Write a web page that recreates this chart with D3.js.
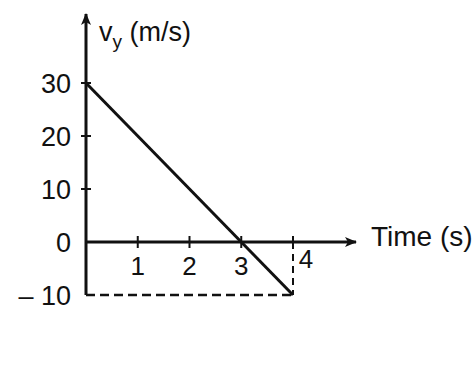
<!DOCTYPE html>
<html>
<head>
<meta charset="utf-8">
<script src="https://cdn.jsdelivr.net/npm/d3@7"></script>
<style>
  body { margin: 0; background: #fff; }
  text { font-family: "Liberation Sans", Arial, sans-serif; fill: #111; }
</style>
</head>
<body>
<svg id="svg" width="474" height="365"></svg>
<script>
// data
var time = [0, 4];
var vy = [30, -10];
var xTicks = [1, 2, 3, 4];
var yTicks = [30, 20, 10, 0, -10];
var yTickLabels = ["30", "20", "10", "0", "\u2013 10"];

var svg = d3.select("#svg");
var ink = "#111";

var x = d3.scaleLinear().domain([0, 4]).range([86, 293]);
var y = d3.scaleLinear().domain([-10, 30]).range([295, 83]);

// arrow head
svg.append("defs").append("marker")
  .attr("id", "arrow")
  .attr("viewBox", "0 0 12 10")
  .attr("refX", 11).attr("refY", 5)
  .attr("markerWidth", 13).attr("markerHeight", 10)
  .attr("markerUnits", "userSpaceOnUse")
  .attr("orient", "auto")
  .append("path")
  .attr("d", "M0,0 L12,5 L0,10 L3,5 Z")
  .attr("fill", ink);

// y axis (from -10 up to arrow)
svg.append("line")
  .attr("x1", x(0)).attr("x2", x(0))
  .attr("y1", y(-10)).attr("y2", 14)
  .attr("stroke", ink).attr("stroke-width", 3)
  .attr("marker-end", "url(#arrow)");

// x axis
svg.append("line")
  .attr("x1", x(0)).attr("x2", 356)
  .attr("y1", y(0)).attr("y2", y(0))
  .attr("stroke", ink).attr("stroke-width", 3)
  .attr("marker-end", "url(#arrow)");

// tick crosses on y axis
svg.selectAll(".ytick").data(yTicks.filter(function (d) { return d !== 0 && d !== -10; }))
  .enter().append("line")
  .attr("class", "ytick")
  .attr("x1", x(0) - 5).attr("x2", x(0) + 5)
  .attr("y1", function (d) { return y(d); })
  .attr("y2", function (d) { return y(d); })
  .attr("stroke", ink).attr("stroke-width", 2);

// tick crosses on x axis
svg.selectAll(".xtick").data(xTicks)
  .enter().append("line")
  .attr("class", "xtick")
  .attr("x1", function (d) { return x(d); })
  .attr("x2", function (d) { return x(d); })
  .attr("y1", y(0) - 6).attr("y2", y(0) + 6)
  .attr("stroke", ink).attr("stroke-width", 2);

// dashed guides at -10 and t = 4
svg.append("line")
  .attr("x1", x(0)).attr("x2", x(4))
  .attr("y1", y(-10)).attr("y2", y(-10))
  .attr("stroke", ink).attr("stroke-width", 2.5)
  .attr("stroke-dasharray", "9,5");
svg.append("line")
  .attr("x1", x(4)).attr("x2", x(4))
  .attr("y1", y(0)).attr("y2", y(-10))
  .attr("stroke", ink).attr("stroke-width", 2)
  .attr("stroke-dasharray", "7,5");

// velocity line
var lineGenerator = d3.line()
  .x(function (d, i) { return x(time[i]); })
  .y(function (d) { return y(d); });

svg.append("path")
  .attr("d", lineGenerator(vy))
  .attr("fill", "none")
  .attr("stroke", ink)
  .attr("stroke-width", 3);

// y tick labels
svg.selectAll(".ylab").data(yTicks)
  .enter().append("text")
  .attr("class", "ylab")
  .attr("x", 71)
  .attr("y", function (d) { return y(d) + 10; })
  .attr("text-anchor", "end")
  .attr("font-size", 27)
  .text(function (d, i) { return yTickLabels[i]; });

// x tick labels
svg.selectAll(".xlab").data(xTicks)
  .enter().append("text")
  .attr("class", "xlab")
  .attr("x", function (d) { return d === 4 ? x(d) + 13 : x(d); })
  .attr("y", function (d) { return d === 4 ? y(0) + 26 : y(0) + 33; })
  .attr("text-anchor", "middle")
  .attr("font-size", 26)
  .text(function (d) { return d; });

// axis titles
var yTitle = svg.append("text")
  .attr("x", 99).attr("y", 41)
  .attr("font-size", 27);
yTitle.append("tspan").text("v");
yTitle.append("tspan").attr("font-size", 19).attr("dy", 7).text("y");
yTitle.append("tspan").attr("dy", -7).text(" (m/s)");

svg.append("text")
  .attr("x", 371).attr("y", 246)
  .attr("font-size", 28)
  .text("Time (s)");
</script>
</body>
</html>
